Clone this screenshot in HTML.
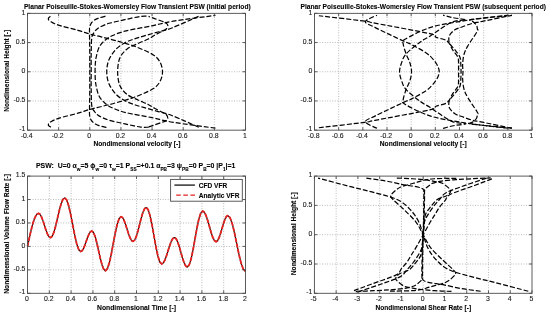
<!DOCTYPE html><html><head><meta charset="utf-8"><style>html,body{margin:0;padding:0;background:#fff;}svg{display:block;filter:blur(0.25px);}text{font-family:"Liberation Sans",Arial,sans-serif;}.t{font-size:6.90px;fill:#1a1a1a;stroke:#1a1a1a;stroke-width:0.12px;}.b{font-size:7.50px;font-weight:bold;fill:#000;stroke:#000;stroke-width:0.1px;}</style></head><body>
<svg width="550" height="315" viewBox="0 0 550 315">
<rect width="550" height="315" fill="#fff"/>
<path d="M58.64 130.15V13.35M89.79 130.15V13.35M120.93 130.15V13.35M152.07 130.15V13.35M183.21 130.15V13.35M214.36 130.15V13.35M27.50 100.95H245.50M27.50 71.75H245.50M27.50 42.55H245.50" stroke="#999" stroke-width="0.75" stroke-dasharray="0.9 1.65" fill="none"/>
<path d="M51.01,127.17C50.73,127.04 49.74,126.68 49.30,126.35C48.86,126.02 48.44,125.67 48.37,125.19C48.29,124.70 48.42,124.00 48.83,123.43C49.25,122.87 49.87,122.41 50.86,121.80C51.84,121.19 52.91,120.50 54.75,119.75C56.59,119.01 58.05,118.39 61.91,117.30C65.78,116.21 73.31,114.53 77.95,113.21C82.60,111.90 85.82,110.55 89.79,109.42C93.76,108.29 97.36,107.56 101.78,106.44C106.19,105.32 110.83,104.23 116.26,102.70C121.68,101.17 128.27,99.54 134.32,97.27C140.37,95.00 148.28,91.69 152.54,89.09C156.79,86.50 158.20,84.57 159.86,81.68C161.52,78.79 162.50,75.06 162.50,71.75C162.50,68.44 161.52,64.71 159.86,61.82C158.20,58.93 156.79,57.00 152.54,54.41C148.28,51.81 140.37,48.50 134.32,46.23C128.27,43.96 121.68,42.33 116.26,40.80C110.83,39.27 106.19,38.18 101.78,37.06C97.36,35.94 93.76,35.21 89.79,34.08C85.82,32.95 82.60,31.60 77.95,30.29C73.31,28.97 65.78,27.29 61.91,26.20C58.05,25.11 56.59,24.49 54.75,23.75C52.91,23.00 51.84,22.31 50.86,21.70C49.87,21.09 49.25,20.63 48.83,20.07C48.42,19.50 48.29,18.80 48.37,18.31C48.44,17.83 48.86,17.48 49.30,17.15C49.74,16.82 50.73,16.46 51.01,16.33" stroke="#000" stroke-width="1.22" fill="none" stroke-dasharray="5 2" stroke-linejoin="round"/>
<path d="M106.45,127.52C105.20,127.20 101.08,126.35 98.97,125.59C96.87,124.84 95.18,123.96 93.83,122.97C92.48,121.97 91.55,120.78 90.88,119.64C90.20,118.50 90.02,117.32 89.79,116.13C89.55,114.95 89.47,116.83 89.47,112.51C89.47,108.20 89.73,97.06 89.79,90.26C89.84,83.47 89.79,77.92 89.79,71.75C89.79,65.58 89.84,60.03 89.79,53.24C89.73,46.44 89.47,35.30 89.47,30.99C89.47,26.67 89.55,28.55 89.79,27.37C90.02,26.18 90.20,25.00 90.88,23.86C91.55,22.72 92.48,21.53 93.83,20.53C95.18,19.54 96.87,18.66 98.97,17.91C101.08,17.15 105.20,16.30 106.45,15.98" stroke="#000" stroke-width="1.22" fill="none" stroke-dasharray="5 2" stroke-linejoin="round"/>
<path d="M148.80,127.23C147.43,127.21 143.71,127.49 140.55,127.11C137.38,126.73 133.26,125.68 129.80,124.95C126.35,124.22 123.29,123.52 119.84,122.73C116.39,121.94 112.10,121.13 109.09,120.22C106.08,119.32 103.72,118.22 101.78,117.30C99.83,116.39 98.64,115.71 97.42,114.73C96.20,113.76 95.39,112.91 94.46,111.46C93.52,110.01 92.36,109.56 91.81,106.03C91.27,102.50 91.29,95.98 91.19,90.26C91.08,84.55 91.19,77.92 91.19,71.75C91.19,65.58 91.08,58.95 91.19,53.24C91.29,47.52 91.27,41.00 91.81,37.47C92.36,33.94 93.52,33.49 94.46,32.04C95.39,30.59 96.20,29.74 97.42,28.77C98.64,27.79 99.83,27.11 101.78,26.20C103.72,25.28 106.08,24.18 109.09,23.28C112.10,22.37 116.39,21.56 119.84,20.77C123.29,19.98 126.35,19.28 129.80,18.55C133.26,17.82 137.38,16.77 140.55,16.39C143.71,16.01 147.43,16.29 148.80,16.27" stroke="#000" stroke-width="1.22" fill="none" stroke-dasharray="5 2" stroke-linejoin="round"/>
<path d="M148.80,126.94C149.76,126.61 152.23,125.77 154.56,124.95C156.90,124.13 161.03,122.67 162.82,122.03C164.61,121.40 164.48,121.77 165.31,121.16C166.14,120.54 167.64,119.46 167.80,118.35C167.95,117.24 167.07,115.47 166.24,114.50C165.41,113.53 164.76,113.54 162.82,112.51C160.87,111.48 157.00,109.65 154.56,108.31C152.12,106.97 150.93,105.84 148.18,104.45C145.43,103.07 141.56,101.67 138.06,100.02C134.55,98.36 130.19,96.95 127.16,94.53C124.12,92.10 121.42,89.27 119.84,85.47C118.26,81.68 117.66,76.32 117.66,71.75C117.66,67.18 118.26,61.82 119.84,58.03C121.42,54.23 124.12,51.40 127.16,48.97C130.19,46.55 134.55,45.14 138.06,43.48C141.56,41.83 145.43,40.43 148.18,39.05C150.93,37.66 152.12,36.53 154.56,35.19C157.00,33.85 160.87,32.02 162.82,30.99C164.76,29.96 165.41,29.97 166.24,29.00C167.07,28.03 167.95,26.26 167.80,25.15C167.64,24.04 166.14,22.96 165.31,22.34C164.48,21.73 164.61,22.10 162.82,21.47C161.03,20.83 156.90,19.37 154.56,18.55C152.23,17.73 149.76,16.89 148.80,16.56" stroke="#000" stroke-width="1.22" fill="none" stroke-dasharray="5 2" stroke-linejoin="round"/>
<path d="M215.45,128.16C208.44,127.19 183.97,124.07 173.40,122.32C162.84,120.58 159.96,119.33 152.07,117.71C144.18,116.10 132.63,114.25 126.07,112.63C119.50,111.01 116.18,109.58 112.68,108.02C109.17,106.45 107.28,105.15 105.05,103.23C102.81,101.31 100.71,99.13 99.28,96.51C97.86,93.89 97.13,90.18 96.48,87.52C95.83,84.85 95.62,83.14 95.39,80.51C95.16,77.88 95.08,74.67 95.08,71.75C95.08,68.83 95.16,65.62 95.39,62.99C95.62,60.36 95.83,58.65 96.48,55.98C97.13,53.32 97.86,49.61 99.28,46.99C100.71,44.37 102.81,42.19 105.05,40.27C107.28,38.35 109.17,37.05 112.68,35.48C116.18,33.92 119.50,32.49 126.07,30.87C132.63,29.25 144.18,27.40 152.07,25.79C159.96,24.17 162.84,22.92 173.40,21.18C183.97,19.43 208.44,16.31 215.45,15.34" stroke="#000" stroke-width="1.22" fill="none" stroke-dasharray="5 2" stroke-linejoin="round"/>
<path d="M198.79,127.23C194.30,125.28 178.85,118.23 171.85,115.55C164.84,112.87 161.47,112.53 156.74,111.17C152.02,109.81 147.24,108.46 143.51,107.37C139.77,106.28 137.36,105.70 134.32,104.63C131.28,103.56 128.30,102.63 125.29,100.95C122.28,99.27 118.98,97.41 116.26,94.53C113.53,91.64 110.52,87.46 108.94,83.66C107.36,79.87 106.76,75.72 106.76,71.75C106.76,67.78 107.36,63.63 108.94,59.84C110.52,56.04 113.53,51.86 116.26,48.97C118.98,46.09 122.28,44.23 125.29,42.55C128.30,40.87 131.28,39.94 134.32,38.87C137.36,37.80 139.77,37.22 143.51,36.13C147.24,35.04 152.02,33.69 156.74,32.33C161.47,30.97 164.84,30.63 171.85,27.95C178.85,25.27 194.30,18.22 198.79,16.27" stroke="#000" stroke-width="1.22" fill="none" stroke-dasharray="5 2" stroke-linejoin="round"/>
<path d="M27.50 130.15v-2.90M27.50 13.35v2.90M58.64 130.15v-2.90M58.64 13.35v2.90M89.79 130.15v-2.90M89.79 13.35v2.90M120.93 130.15v-2.90M120.93 13.35v2.90M152.07 130.15v-2.90M152.07 13.35v2.90M183.21 130.15v-2.90M183.21 13.35v2.90M214.36 130.15v-2.90M214.36 13.35v2.90M245.50 130.15v-2.90M245.50 13.35v2.90M27.50 130.15h2.90M245.50 130.15h-2.90M27.50 100.95h2.90M245.50 100.95h-2.90M27.50 71.75h2.90M245.50 71.75h-2.90M27.50 42.55h2.90M245.50 42.55h-2.90M27.50 13.35h2.90M245.50 13.35h-2.90" stroke="#4a4a4a" stroke-width="0.90" fill="none"/>
<rect x="27.50" y="13.35" width="218.00" height="116.80" stroke="#4a4a4a" stroke-width="0.90" fill="none"/>
<text class="t" x="26.60" y="138.20" text-anchor="middle">-0.4</text>
<text class="t" x="57.74" y="138.20" text-anchor="middle">-0.2</text>
<text class="t" x="89.29" y="138.20" text-anchor="middle">0</text>
<text class="t" x="120.43" y="138.20" text-anchor="middle">0.2</text>
<text class="t" x="151.57" y="138.20" text-anchor="middle">0.4</text>
<text class="t" x="182.71" y="138.20" text-anchor="middle">0.6</text>
<text class="t" x="213.86" y="138.20" text-anchor="middle">0.8</text>
<text class="t" x="245.00" y="138.20" text-anchor="middle">1</text>
<text class="t" x="25.40" y="131.30" text-anchor="end">-1</text>
<text class="t" x="25.40" y="102.10" text-anchor="end">-0.5</text>
<text class="t" x="25.40" y="72.90" text-anchor="end">0</text>
<text class="t" x="25.40" y="43.70" text-anchor="end">0.5</text>
<text class="t" x="25.40" y="14.50" text-anchor="end">1</text>
<path d="M338.67 130.15V13.35M362.83 130.15V13.35M387.00 130.15V13.35M411.17 130.15V13.35M435.33 130.15V13.35M459.50 130.15V13.35M483.67 130.15V13.35M507.83 130.15V13.35M314.50 100.95H532.00M314.50 71.75H532.00M314.50 42.55H532.00" stroke="#999" stroke-width="0.75" stroke-dasharray="0.9 1.65" fill="none"/>
<path d="M318.85,127.76C326.52,126.85 355.54,123.56 364.89,122.32C374.23,121.09 364.08,122.42 374.92,120.34C385.75,118.26 419.73,112.18 429.90,109.83C440.07,107.47 433.06,107.41 435.94,106.21C438.82,105.00 444.36,104.74 447.17,102.59C449.99,100.43 451.06,96.03 452.85,93.30C454.65,90.56 456.98,88.57 457.93,86.17C458.88,83.78 458.43,81.34 458.53,78.93C458.63,76.53 458.53,74.14 458.53,71.75C458.53,69.36 458.63,66.97 458.53,64.57C458.43,62.16 458.88,59.72 457.93,57.33C456.98,54.93 454.65,52.94 452.85,50.20C451.06,47.47 449.99,43.07 447.17,40.91C444.36,38.76 438.82,38.50 435.94,37.29C433.06,36.09 440.07,36.03 429.90,33.67C419.73,31.32 385.75,25.24 374.92,23.16C364.08,21.08 374.23,22.41 364.89,21.18C355.54,19.94 326.52,16.65 318.85,15.74" stroke="#000" stroke-width="1.22" fill="none" stroke-dasharray="5 2" stroke-linejoin="round"/>
<path d="M376.97,128.34C375.04,127.26 365.71,123.89 365.37,121.86C365.03,119.82 370.83,118.30 374.92,116.13C379.00,113.96 384.72,111.31 389.90,108.83C395.08,106.36 402.18,103.04 405.97,101.30C409.76,99.56 408.59,100.70 412.62,98.38C416.64,96.06 425.71,91.84 430.14,87.40C434.57,82.96 439.20,76.97 439.20,71.75C439.20,66.53 434.57,60.54 430.14,56.10C425.71,51.66 416.64,47.44 412.62,45.12C408.59,42.80 409.76,43.94 405.97,42.20C402.18,40.46 395.08,37.14 389.90,34.67C384.72,32.19 379.00,29.54 374.92,27.37C370.83,25.20 365.03,23.68 365.37,21.64C365.71,19.61 375.04,16.24 376.97,15.16" stroke="#000" stroke-width="1.22" fill="none" stroke-dasharray="5 2" stroke-linejoin="round"/>
<path d="M511.94,128.22C507.01,127.73 489.33,126.00 482.34,125.24C475.35,124.49 471.60,124.21 470.01,123.67C468.42,123.12 471.72,122.84 472.79,121.97C473.86,121.11 475.65,119.74 476.42,118.47C477.18,117.20 477.26,115.47 477.38,114.38C477.50,113.29 478.73,114.72 477.14,111.93C475.55,109.14 470.03,101.45 467.84,97.62C465.64,93.80 464.84,92.09 463.97,88.98C463.10,85.86 462.80,81.80 462.64,78.93C462.48,76.06 463.00,74.14 463.00,71.75C463.00,69.36 462.48,67.44 462.64,64.57C462.80,61.70 463.10,57.64 463.97,54.52C464.84,51.41 465.64,49.70 467.84,45.88C470.03,42.05 475.55,34.36 477.14,31.57C478.73,28.78 477.50,30.21 477.38,29.12C477.26,28.03 477.18,26.30 476.42,25.03C475.65,23.76 473.86,22.39 472.79,21.53C471.72,20.66 468.42,20.38 470.01,19.83C471.60,19.29 475.35,19.01 482.34,18.26C489.33,17.50 507.01,15.77 511.94,15.28" stroke="#000" stroke-width="1.22" fill="none" stroke-dasharray="5 2" stroke-linejoin="round"/>
<path d="M511.94,128.22C507.01,127.21 488.96,123.50 482.34,122.15C475.71,120.80 475.59,121.04 472.19,120.11C468.78,119.17 464.80,117.60 461.92,116.54C459.04,115.48 456.96,115.13 454.91,113.74C452.85,112.35 450.60,110.03 449.59,108.19C448.58,106.35 448.77,104.20 448.87,102.70C448.97,101.20 449.15,100.77 450.20,99.20C451.24,97.63 453.52,95.47 455.15,93.30C456.78,91.13 459.04,88.60 459.98,86.17C460.93,83.75 460.65,81.16 460.83,78.76C461.01,76.35 461.07,74.09 461.07,71.75C461.07,69.41 461.01,67.15 460.83,64.74C460.65,62.34 460.93,59.75 459.98,57.33C459.04,54.90 456.78,52.37 455.15,50.20C453.52,48.03 451.24,45.87 450.20,44.30C449.15,42.73 448.97,42.30 448.87,40.80C448.77,39.30 448.58,37.15 449.59,35.31C450.60,33.47 452.85,31.15 454.91,29.76C456.96,28.37 459.04,28.02 461.92,26.96C464.80,25.90 468.78,24.33 472.19,23.39C475.59,22.46 475.71,22.70 482.34,21.35C488.96,20.00 507.01,16.29 511.94,15.28" stroke="#000" stroke-width="1.22" fill="none" stroke-dasharray="5 2" stroke-linejoin="round"/>
<path d="M443.07,128.40C443.97,128.14 446.57,127.31 448.50,126.82C450.44,126.33 451.77,126.00 454.67,125.48C457.57,124.95 466.39,124.36 465.90,123.67C465.42,122.98 457.77,124.06 451.77,121.33C445.77,118.61 435.19,110.65 429.90,107.32C424.60,103.98 423.95,104.26 419.99,101.30C416.02,98.34 409.17,93.03 406.09,89.56C403.01,86.10 402.59,83.48 401.50,80.51C400.41,77.54 399.57,74.67 399.57,71.75C399.57,68.83 400.41,65.96 401.50,62.99C402.59,60.02 403.01,57.40 406.09,53.94C409.17,50.47 416.02,45.16 419.99,42.20C423.95,39.24 424.60,39.52 429.90,36.18C435.19,32.85 445.77,24.89 451.77,22.17C457.77,19.44 465.42,20.52 465.90,19.83C466.39,19.14 457.57,18.55 454.67,18.02C451.77,17.50 450.44,17.17 448.50,16.68C446.57,16.19 443.97,15.36 443.07,15.10" stroke="#000" stroke-width="1.22" fill="none" stroke-dasharray="5 2" stroke-linejoin="round"/>
<path d="M507.83,128.11C504.85,127.79 498.01,127.26 489.95,126.24C481.89,125.22 469.51,123.70 459.50,121.97C449.49,120.25 438.98,118.85 429.90,115.90C420.81,112.95 409.45,106.97 405.00,104.28C400.55,101.59 403.01,102.23 403.19,99.78C403.37,97.33 404.96,92.77 406.09,89.56C407.22,86.35 409.05,83.48 409.96,80.51C410.86,77.54 411.53,74.67 411.53,71.75C411.53,68.83 410.86,65.96 409.96,62.99C409.05,60.02 407.22,57.15 406.09,53.94C404.96,50.73 403.37,46.17 403.19,43.72C403.01,41.27 400.55,41.91 405.00,39.22C409.45,36.53 420.81,30.55 429.90,27.60C438.98,24.65 449.49,23.25 459.50,21.53C469.51,19.80 481.89,18.28 489.95,17.26C498.01,16.24 504.85,15.71 507.83,15.39" stroke="#000" stroke-width="1.22" fill="none" stroke-dasharray="5 2" stroke-linejoin="round"/>
<path d="M314.50 130.15v-2.90M314.50 13.35v2.90M338.67 130.15v-2.90M338.67 13.35v2.90M362.83 130.15v-2.90M362.83 13.35v2.90M387.00 130.15v-2.90M387.00 13.35v2.90M411.17 130.15v-2.90M411.17 13.35v2.90M435.33 130.15v-2.90M435.33 13.35v2.90M459.50 130.15v-2.90M459.50 13.35v2.90M483.67 130.15v-2.90M483.67 13.35v2.90M507.83 130.15v-2.90M507.83 13.35v2.90M532.00 130.15v-2.90M532.00 13.35v2.90M314.50 130.15h2.90M532.00 130.15h-2.90M314.50 100.95h2.90M532.00 100.95h-2.90M314.50 71.75h2.90M532.00 71.75h-2.90M314.50 42.55h2.90M532.00 42.55h-2.90M314.50 13.35h2.90M532.00 13.35h-2.90" stroke="#4a4a4a" stroke-width="0.90" fill="none"/>
<rect x="314.50" y="13.35" width="217.50" height="116.80" stroke="#4a4a4a" stroke-width="0.90" fill="none"/>
<text class="t" x="313.60" y="138.20" text-anchor="middle">-0.8</text>
<text class="t" x="337.77" y="138.20" text-anchor="middle">-0.6</text>
<text class="t" x="361.93" y="138.20" text-anchor="middle">-0.4</text>
<text class="t" x="386.10" y="138.20" text-anchor="middle">-0.2</text>
<text class="t" x="410.67" y="138.20" text-anchor="middle">0</text>
<text class="t" x="434.83" y="138.20" text-anchor="middle">0.2</text>
<text class="t" x="459.00" y="138.20" text-anchor="middle">0.4</text>
<text class="t" x="483.17" y="138.20" text-anchor="middle">0.6</text>
<text class="t" x="507.33" y="138.20" text-anchor="middle">0.8</text>
<text class="t" x="531.50" y="138.20" text-anchor="middle">1</text>
<text class="t" x="312.40" y="131.30" text-anchor="end">-1</text>
<text class="t" x="312.40" y="102.10" text-anchor="end">-0.5</text>
<text class="t" x="312.40" y="72.90" text-anchor="end">0</text>
<text class="t" x="312.40" y="43.70" text-anchor="end">0.5</text>
<text class="t" x="312.40" y="14.50" text-anchor="end">1</text>
<path d="M49.30 293.30V176.10M71.10 293.30V176.10M92.90 293.30V176.10M114.70 293.30V176.10M136.50 293.30V176.10M158.30 293.30V176.10M180.10 293.30V176.10M201.90 293.30V176.10M223.70 293.30V176.10M27.50 269.86H245.50M27.50 246.42H245.50M27.50 222.98H245.50M27.50 199.54H245.50" stroke="#999" stroke-width="0.75" stroke-dasharray="0.9 1.65" fill="none"/>
<path d="M27.50,246.42 28.88,239.97 30.25,233.77 31.63,228.06 33.00,223.05 34.38,218.94 35.76,215.89 37.13,214.00 38.51,213.37 40.01,214.30 41.51,216.93 43.01,220.88 44.50,225.53 46.00,230.19 47.50,234.14 49.00,236.77 50.50,237.70 52.27,236.19 54.04,231.87 55.81,225.42 57.58,217.80 59.36,210.18 61.13,203.73 62.90,199.41 64.67,197.90 66.67,199.94 68.67,205.76 70.68,214.47 72.68,224.74 74.68,235.01 76.69,243.72 78.69,249.53 80.69,251.58 82.08,250.79 83.47,248.56 84.86,245.21 86.25,241.26 87.64,237.32 89.03,233.97 90.42,231.73 91.81,230.95 93.51,232.47 95.22,236.79 96.92,243.25 98.62,250.87 100.33,258.50 102.03,264.96 103.73,269.28 105.44,270.80 107.38,268.74 109.33,262.87 111.28,254.08 113.23,243.72 115.18,233.36 117.13,224.58 119.07,218.71 121.02,216.65 122.52,217.59 124.02,220.28 125.52,224.29 127.02,229.03 128.52,233.76 130.01,237.78 131.51,240.46 133.01,241.40 134.66,240.11 136.31,236.44 137.96,230.94 139.61,224.46 141.26,217.97 142.90,212.47 144.55,208.80 146.20,207.51 148.14,209.66 150.07,215.78 152.01,224.95 153.94,235.75 155.87,246.56 157.81,255.73 159.74,261.85 161.68,264.00 163.27,262.99 164.87,260.12 166.46,255.82 168.06,250.76 169.65,245.69 171.24,241.39 172.84,238.52 174.43,237.51 176.04,238.64 177.65,241.84 179.26,246.63 180.86,252.28 182.47,257.93 184.08,262.72 185.69,265.92 187.29,267.05 189.22,264.91 191.14,258.84 193.06,249.74 194.98,239.01 196.90,228.28 198.82,219.19 200.74,213.11 202.66,210.98 204.34,212.15 206.01,215.48 207.69,220.47 209.37,226.36 211.04,232.24 212.72,237.23 214.39,240.56 216.07,241.73 217.54,240.74 219.01,237.90 220.48,233.66 221.96,228.65 223.43,223.65 224.90,219.40 226.37,216.57 227.84,215.57 230.05,217.69 232.26,223.73 234.46,232.76 236.67,243.42 238.88,254.08 241.09,263.11 243.29,269.15 245.50,271.27" stroke="#111" stroke-width="1.2" fill="none"  stroke-linejoin="round"/>
<path d="M27.50,246.42 28.88,239.97 30.25,233.77 31.63,228.06 33.00,223.05 34.38,218.94 35.76,215.89 37.13,214.00 38.51,213.37 40.01,214.30 41.51,216.93 43.01,220.88 44.50,225.53 46.00,230.19 47.50,234.14 49.00,236.77 50.50,237.70 52.27,236.19 54.04,231.87 55.81,225.42 57.58,217.80 59.36,210.18 61.13,203.73 62.90,199.41 64.67,197.90 66.67,199.94 68.67,205.76 70.68,214.47 72.68,224.74 74.68,235.01 76.69,243.72 78.69,249.53 80.69,251.58 82.08,250.79 83.47,248.56 84.86,245.21 86.25,241.26 87.64,237.32 89.03,233.97 90.42,231.73 91.81,230.95 93.51,232.47 95.22,236.79 96.92,243.25 98.62,250.87 100.33,258.50 102.03,264.96 103.73,269.28 105.44,270.80 107.38,268.74 109.33,262.87 111.28,254.08 113.23,243.72 115.18,233.36 117.13,224.58 119.07,218.71 121.02,216.65 122.52,217.59 124.02,220.28 125.52,224.29 127.02,229.03 128.52,233.76 130.01,237.78 131.51,240.46 133.01,241.40 134.66,240.11 136.31,236.44 137.96,230.94 139.61,224.46 141.26,217.97 142.90,212.47 144.55,208.80 146.20,207.51 148.14,209.66 150.07,215.78 152.01,224.95 153.94,235.75 155.87,246.56 157.81,255.73 159.74,261.85 161.68,264.00 163.27,262.99 164.87,260.12 166.46,255.82 168.06,250.76 169.65,245.69 171.24,241.39 172.84,238.52 174.43,237.51 176.04,238.64 177.65,241.84 179.26,246.63 180.86,252.28 182.47,257.93 184.08,262.72 185.69,265.92 187.29,267.05 189.22,264.91 191.14,258.84 193.06,249.74 194.98,239.01 196.90,228.28 198.82,219.19 200.74,213.11 202.66,210.98 204.34,212.15 206.01,215.48 207.69,220.47 209.37,226.36 211.04,232.24 212.72,237.23 214.39,240.56 216.07,241.73 217.54,240.74 219.01,237.90 220.48,233.66 221.96,228.65 223.43,223.65 224.90,219.40 226.37,216.57 227.84,215.57 230.05,217.69 232.26,223.73 234.46,232.76 236.67,243.42 238.88,254.08 241.09,263.11 243.29,269.15 245.50,271.27" stroke="#ea2320" stroke-width="1.8" fill="none" stroke-dasharray="4.4 1.2" stroke-linejoin="round"/>
<path d="M27.50 293.30v-2.90M27.50 176.10v2.90M49.30 293.30v-2.90M49.30 176.10v2.90M71.10 293.30v-2.90M71.10 176.10v2.90M92.90 293.30v-2.90M92.90 176.10v2.90M114.70 293.30v-2.90M114.70 176.10v2.90M136.50 293.30v-2.90M136.50 176.10v2.90M158.30 293.30v-2.90M158.30 176.10v2.90M180.10 293.30v-2.90M180.10 176.10v2.90M201.90 293.30v-2.90M201.90 176.10v2.90M223.70 293.30v-2.90M223.70 176.10v2.90M245.50 293.30v-2.90M245.50 176.10v2.90M27.50 293.30h2.90M245.50 293.30h-2.90M27.50 269.86h2.90M245.50 269.86h-2.90M27.50 246.42h2.90M245.50 246.42h-2.90M27.50 222.98h2.90M245.50 222.98h-2.90M27.50 199.54h2.90M245.50 199.54h-2.90M27.50 176.10h2.90M245.50 176.10h-2.90" stroke="#4a4a4a" stroke-width="0.90" fill="none"/>
<rect x="27.50" y="176.10" width="218.00" height="117.20" stroke="#4a4a4a" stroke-width="0.90" fill="none"/>
<text class="t" x="27.00" y="301.35" text-anchor="middle">0</text>
<text class="t" x="48.80" y="301.35" text-anchor="middle">0.2</text>
<text class="t" x="70.60" y="301.35" text-anchor="middle">0.4</text>
<text class="t" x="92.40" y="301.35" text-anchor="middle">0.6</text>
<text class="t" x="114.20" y="301.35" text-anchor="middle">0.8</text>
<text class="t" x="136.00" y="301.35" text-anchor="middle">1</text>
<text class="t" x="157.80" y="301.35" text-anchor="middle">1.2</text>
<text class="t" x="179.60" y="301.35" text-anchor="middle">1.4</text>
<text class="t" x="201.40" y="301.35" text-anchor="middle">1.6</text>
<text class="t" x="223.20" y="301.35" text-anchor="middle">1.8</text>
<text class="t" x="245.00" y="301.35" text-anchor="middle">2</text>
<text class="t" x="25.40" y="294.45" text-anchor="end">-1</text>
<text class="t" x="25.40" y="271.01" text-anchor="end">-0.5</text>
<text class="t" x="25.40" y="247.57" text-anchor="end">0</text>
<text class="t" x="25.40" y="224.13" text-anchor="end">0.5</text>
<text class="t" x="25.40" y="200.69" text-anchor="end">1</text>
<text class="t" x="25.40" y="177.25" text-anchor="end">1.5</text>
<path d="M336.16 293.30V176.10M357.92 293.30V176.10M379.68 293.30V176.10M401.44 293.30V176.10M423.20 293.30V176.10M444.96 293.30V176.10M466.72 293.30V176.10M488.48 293.30V176.10M510.24 293.30V176.10M314.40 264.00H532.00M314.40 234.70H532.00M314.40 205.40H532.00" stroke="#999" stroke-width="0.75" stroke-dasharray="0.9 1.65" fill="none"/>
<path d="M528.30,291.25C522.68,289.78 503.53,284.75 494.57,282.46C485.61,280.16 481.23,279.24 474.55,277.48C467.88,275.72 459.54,273.62 454.53,271.91C449.53,270.20 447.28,268.93 444.52,267.22C441.77,265.51 440.03,263.66 438.00,261.66C435.97,259.65 434.15,257.75 432.34,255.21C430.53,252.67 428.64,249.84 427.12,246.42C425.59,243.00 424.51,238.61 423.20,234.70C421.89,230.79 420.81,226.40 419.28,222.98C417.76,219.56 415.87,216.73 414.06,214.19C412.25,211.65 410.43,209.75 408.40,207.74C406.37,205.74 404.63,203.89 401.88,202.18C399.12,200.47 396.87,199.20 391.87,197.49C386.86,195.78 378.52,193.68 371.85,191.92C365.17,190.16 360.79,189.24 351.83,186.94C342.87,184.65 323.72,179.62 318.10,178.15" stroke="#000" stroke-width="1.22" fill="none" stroke-dasharray="5 2" stroke-linejoin="round"/>
<path d="M389.91,291.13C393.64,291.05 407.06,290.94 412.32,290.66C417.58,290.39 418.78,290.03 421.46,289.49C424.14,288.95 425.88,288.17 428.42,287.44C430.96,286.71 433.93,285.88 436.69,285.10C439.45,284.31 442.64,283.73 444.96,282.75C447.28,281.78 448.84,280.75 450.62,279.24C452.39,277.72 455.22,275.28 455.62,273.67C456.02,272.06 455.19,271.86 453.01,269.57C450.84,267.27 446.30,263.56 442.57,259.90C438.83,256.24 433.83,251.79 430.60,247.59C427.37,243.39 425.67,239.00 423.20,234.70C420.73,230.40 419.03,226.01 415.80,221.81C412.57,217.61 407.57,213.16 403.83,209.50C400.10,205.84 395.56,202.13 393.39,199.83C391.21,197.54 390.38,197.34 390.78,195.73C391.18,194.12 394.01,191.68 395.78,190.16C397.56,188.65 399.12,187.62 401.44,186.65C403.76,185.67 406.95,185.09 409.71,184.30C412.47,183.52 415.44,182.69 417.98,181.96C420.52,181.23 422.26,180.45 424.94,179.91C427.62,179.37 428.82,179.01 434.08,178.74C439.34,178.46 452.76,178.35 456.49,178.27" stroke="#000" stroke-width="1.22" fill="none" stroke-dasharray="5 2" stroke-linejoin="round"/>
<path d="M354.00,290.66C356.98,289.54 364.88,286.51 371.85,283.92C378.81,281.34 390.85,277.67 395.78,275.13C400.71,272.59 399.59,270.84 401.44,268.69C403.29,266.54 405.25,264.49 406.88,262.24C408.51,260.00 409.60,257.85 411.23,255.21C412.86,252.57 414.68,249.84 416.67,246.42C418.67,243.00 421.02,238.61 423.20,234.70C425.38,230.79 427.73,226.40 429.73,222.98C431.72,219.56 433.54,216.83 435.17,214.19C436.80,211.55 437.89,209.40 439.52,207.16C441.15,204.91 443.11,202.86 444.96,200.71C446.81,198.56 445.69,196.81 450.62,194.27C455.55,191.73 467.59,188.06 474.55,185.48C481.52,182.89 489.42,179.86 492.40,178.74" stroke="#000" stroke-width="1.22" fill="none" stroke-dasharray="5 2" stroke-linejoin="round"/>
<path d="M357.92,291.84C361.58,290.61 372.90,287.00 379.90,284.51C386.90,282.02 395.42,279.33 399.92,276.89C404.41,274.45 404.63,272.30 406.88,269.86C409.13,267.42 411.23,265.17 413.41,262.24C415.58,259.31 418.49,254.92 419.94,252.28C421.39,249.64 421.57,249.35 422.11,246.42C422.66,243.49 422.84,238.61 423.20,234.70C423.56,230.79 423.74,225.91 424.29,222.98C424.83,220.05 425.01,219.76 426.46,217.12C427.91,214.48 430.82,210.09 432.99,207.16C435.17,204.23 437.27,201.98 439.52,199.54C441.77,197.10 441.99,194.95 446.48,192.51C450.98,190.07 459.50,187.38 466.50,184.89C473.50,182.40 484.82,178.79 488.48,177.56" stroke="#000" stroke-width="1.22" fill="none" stroke-dasharray="5 2" stroke-linejoin="round"/>
<path d="M480.65,291.25C477.45,290.81 467.45,289.64 461.50,288.61C455.55,287.59 449.17,285.93 444.96,285.10C440.75,284.27 439.16,284.12 436.26,283.63C433.35,283.14 429.73,282.75 427.55,282.17C425.38,281.58 424.03,280.80 423.20,280.12C422.37,279.43 422.66,279.77 422.55,278.06C422.44,276.35 422.51,274.16 422.55,269.86C422.58,265.56 422.66,258.14 422.76,252.28C422.87,246.42 423.05,240.56 423.20,234.70C423.35,228.84 423.53,222.98 423.64,217.12C423.74,211.26 423.82,203.84 423.85,199.54C423.89,195.24 423.96,193.05 423.85,191.34C423.74,189.63 424.03,189.97 423.20,189.28C422.37,188.60 421.02,187.82 418.85,187.23C416.67,186.65 413.05,186.26 410.14,185.77C407.24,185.28 405.65,185.13 401.44,184.30C397.23,183.47 390.85,181.81 384.90,180.79C378.95,179.76 368.95,178.59 365.75,178.15" stroke="#000" stroke-width="1.22" fill="none" stroke-dasharray="5 2" stroke-linejoin="round"/>
<path d="M451.49,291.42C448.59,291.30 439.16,290.99 434.08,290.66C429.00,290.34 424.65,289.93 421.02,289.49C417.40,289.05 415.15,288.59 412.32,288.03C409.49,287.46 406.66,287.36 404.05,286.09C401.44,284.82 397.99,281.84 396.65,280.41C395.31,278.97 395.56,278.55 396.00,277.48C396.44,276.40 397.09,275.23 399.26,273.96C401.44,272.69 406.34,271.72 409.06,269.86C411.78,268.00 413.63,265.27 415.58,262.83C417.54,260.39 419.72,257.94 420.81,255.21C421.89,252.48 421.71,249.84 422.11,246.42C422.51,243.00 422.84,238.61 423.20,234.70C423.56,230.79 423.89,226.40 424.29,222.98C424.69,219.56 424.51,216.92 425.59,214.19C426.68,211.46 428.86,209.01 430.82,206.57C432.77,204.13 434.62,201.40 437.34,199.54C440.06,197.68 444.96,196.71 447.14,195.44C449.31,194.17 449.96,193.00 450.40,191.92C450.84,190.85 451.09,190.43 449.75,188.99C448.41,187.56 444.96,184.58 442.35,183.31C439.74,182.04 436.91,181.94 434.08,181.37C431.25,180.81 429.00,180.35 425.38,179.91C421.75,179.47 417.40,179.06 412.32,178.74C407.24,178.41 397.81,178.10 394.91,177.98" stroke="#000" stroke-width="1.22" fill="none" stroke-dasharray="5 2" stroke-linejoin="round"/>
<path d="M355.74,291.54C358.79,291.40 368.22,290.96 374.02,290.66C379.83,290.37 385.41,290.17 390.56,289.78C395.71,289.39 401.15,288.91 404.92,288.32C408.69,287.73 411.27,286.90 413.19,286.27C415.11,285.63 415.15,285.44 416.45,284.51C417.76,283.58 420.12,281.78 421.02,280.70C421.93,279.63 421.75,279.87 421.89,278.06C422.04,276.26 421.82,274.16 421.89,269.86C421.97,265.56 422.11,258.14 422.33,252.28C422.55,246.42 422.91,240.56 423.20,234.70C423.49,228.84 423.85,222.98 424.07,217.12C424.29,211.26 424.43,203.84 424.51,199.54C424.58,195.24 424.36,193.14 424.51,191.34C424.65,189.53 424.47,189.77 425.38,188.70C426.28,187.62 428.64,185.82 429.95,184.89C431.25,183.96 431.29,183.77 433.21,183.13C435.13,182.50 437.71,181.67 441.48,181.08C445.25,180.49 450.69,180.01 455.84,179.62C460.99,179.23 466.57,179.03 472.38,178.74C478.18,178.44 487.61,178.00 490.66,177.86" stroke="#000" stroke-width="1.22" fill="none" stroke-dasharray="5 2" stroke-linejoin="round"/>
<path d="M314.40 293.30v-2.90M314.40 176.10v2.90M336.16 293.30v-2.90M336.16 176.10v2.90M357.92 293.30v-2.90M357.92 176.10v2.90M379.68 293.30v-2.90M379.68 176.10v2.90M401.44 293.30v-2.90M401.44 176.10v2.90M423.20 293.30v-2.90M423.20 176.10v2.90M444.96 293.30v-2.90M444.96 176.10v2.90M466.72 293.30v-2.90M466.72 176.10v2.90M488.48 293.30v-2.90M488.48 176.10v2.90M510.24 293.30v-2.90M510.24 176.10v2.90M532.00 293.30v-2.90M532.00 176.10v2.90M314.40 293.30h2.90M532.00 293.30h-2.90M314.40 264.00h2.90M532.00 264.00h-2.90M314.40 234.70h2.90M532.00 234.70h-2.90M314.40 205.40h2.90M532.00 205.40h-2.90M314.40 176.10h2.90M532.00 176.10h-2.90" stroke="#4a4a4a" stroke-width="0.90" fill="none"/>
<rect x="314.40" y="176.10" width="217.60" height="117.20" stroke="#4a4a4a" stroke-width="0.90" fill="none"/>
<text class="t" x="313.50" y="301.35" text-anchor="middle">-5</text>
<text class="t" x="335.26" y="301.35" text-anchor="middle">-4</text>
<text class="t" x="357.02" y="301.35" text-anchor="middle">-3</text>
<text class="t" x="378.78" y="301.35" text-anchor="middle">-2</text>
<text class="t" x="400.54" y="301.35" text-anchor="middle">-1</text>
<text class="t" x="422.70" y="301.35" text-anchor="middle">0</text>
<text class="t" x="444.46" y="301.35" text-anchor="middle">1</text>
<text class="t" x="466.22" y="301.35" text-anchor="middle">2</text>
<text class="t" x="487.98" y="301.35" text-anchor="middle">3</text>
<text class="t" x="509.74" y="301.35" text-anchor="middle">4</text>
<text class="t" x="531.50" y="301.35" text-anchor="middle">5</text>
<text class="t" x="312.30" y="294.45" text-anchor="end">-1</text>
<text class="t" x="312.30" y="265.15" text-anchor="end">-0.5</text>
<text class="t" x="312.30" y="235.85" text-anchor="end">0</text>
<text class="t" x="312.30" y="206.55" text-anchor="end">0.5</text>
<text class="t" x="312.30" y="177.25" text-anchor="end">1</text>
<text class="b" x="23.90" y="8.70" textLength="226.80" lengthAdjust="spacingAndGlyphs" >Planar Poiseuille-Stokes-Womersley Flow Transient PSW (initial period)</text>
<text class="b" x="300.50" y="8.70" textLength="245.40" lengthAdjust="spacingAndGlyphs" >Planar Poiseuille-Stokes-Womersley Flow Transient PSW (subsequent period)</text>
<text class="b" x="93.50" y="146.00" textLength="86.90" lengthAdjust="spacingAndGlyphs" >Nondimensional velocity [-]</text>
<text class="b" x="379.80" y="146.00" textLength="86.90" lengthAdjust="spacingAndGlyphs" >Nondimensional velocity [-]</text>
<text class="b" x="97.00" y="309.70" textLength="79.00" lengthAdjust="spacingAndGlyphs" >Nondimensional Time [-]</text>
<text class="b" x="375.40" y="309.70" textLength="95.70" lengthAdjust="spacingAndGlyphs" >Nondimensional Shear Rate [-]</text>
<text class="b" transform="translate(8.80 111.80) rotate(-90)" x="0" y="0" textLength="82.00" lengthAdjust="spacingAndGlyphs" >Nondimensional Height [-]</text>
<text class="b" transform="translate(8.80 293.80) rotate(-90)" x="0" y="0" textLength="119.70" lengthAdjust="spacingAndGlyphs" >Nondimensional Volume Flow Rate [-]</text>
<text class="b" transform="translate(296.30 275.20) rotate(-90)" x="0" y="0" textLength="83.00" lengthAdjust="spacingAndGlyphs" >Nondimensional Height [-]</text>
<text class="b" x="36" y="167.9" font-size="6.8px" textLength="199.4" lengthAdjust="spacingAndGlyphs">PSW:&#160; U=0 &#945;<tspan font-size="5.2px" dy="3.5">w</tspan><tspan dy="-3.5">=5 &#981;</tspan><tspan font-size="5.2px" dy="3.5">w</tspan><tspan dy="-3.5">=0 &#964;</tspan><tspan font-size="5.2px" dy="3.5">w</tspan><tspan dy="-3.5">=1 P</tspan><tspan font-size="5.2px" dy="3.5">SS</tspan><tspan dy="-3.5">=+0.1 &#945;</tspan><tspan font-size="5.2px" dy="3.5">PB</tspan><tspan dy="-3.5">=3 &#968;</tspan><tspan font-size="5.2px" dy="3.5">PB</tspan><tspan dy="-3.5">=0 P</tspan><tspan font-size="5.2px" dy="3.5">B</tspan><tspan dy="-3.5">=0 |P</tspan><tspan font-size="5.2px" dy="3.5">1</tspan><tspan dy="-3.5">|=1</tspan></text>
<rect x="170.6" y="179.4" width="71.7" height="21.8" fill="#fff" stroke="#4a4a4a" stroke-width="0.9"/>
<path d="M174.4 185.1H194.9" stroke="#222" stroke-width="1.4"/>
<path d="M176.2 195.1H195" stroke="#e42522" stroke-width="1.4" stroke-dasharray="4.6 2.5"/>
<text class="b" x="198.80" y="187.60" textLength="28.30" lengthAdjust="spacingAndGlyphs" >CFD VFR</text>
<text class="b" x="198.80" y="197.60" textLength="40.60" lengthAdjust="spacingAndGlyphs" >Analytic VFR</text>
</svg></body></html>
